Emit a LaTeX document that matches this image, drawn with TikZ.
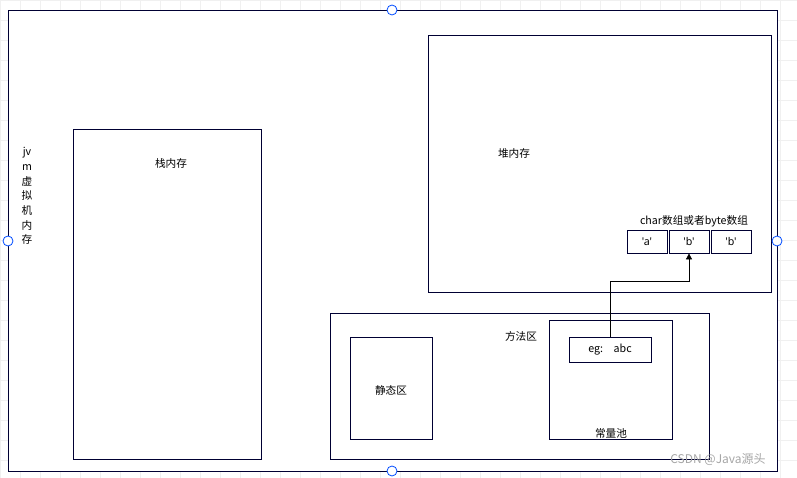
\documentclass[tikz,border=0pt]{standalone}
\usepackage{fontspec}
\setmainfont{Noto Sans CJK SC}
\newfontfamily\latinfont{Noto Sans}
\usetikzlibrary{arrows.meta}
\tikzset{
  box/.style={draw=blue!20!black,line width=0.6pt},
  lbl/.style={font=\fontsize{8}{9}\selectfont,inner sep=0pt},
  handle/.style={draw=blue!70!cyan,fill=white,line width=0.6pt},
}
\begin{document}
\begin{tikzpicture}[x=0.75pt,y=-0.75pt]
  \useasboundingbox (0,0) rectangle (797,478);
  % background grid
  \foreach \gx in {0,20,...,790} \draw[gray!12] (\gx,0) -- (\gx,478);
  \foreach \gy in {0,20,...,470} \draw[gray!12] (0,\gy) -- (797,\gy);
  \fill[white] (8,10) rectangle (777,471);

  % boxes
  \draw[box] (8,10) rectangle (777,471);
  \draw[box] (73,129) rectangle (261,459);
  \draw[box] (428,35) rectangle (771,292);
  \draw[box] (330,313) rectangle (709,459);
  \draw[box] (350,337) rectangle (432,439);
  \draw[box] (549,320) rectangle (672,439);
  \node[box,minimum width=61.5pt,minimum height=18.75pt,inner sep=0pt] (eg) at (610,349.5) {};
  \node[lbl] at (eg) {eg:\quad abc};
  \node[box,minimum width=30pt,minimum height=17.25pt,inner sep=0pt] (ca) at (647,241.5) {};
  \node[box,minimum width=30pt,minimum height=17.25pt,inner sep=0pt] (cb) at (689,241.5) {};
  \node[box,minimum width=30pt,minimum height=17.25pt,inner sep=0pt] (cc) at (731,241.5) {};
  \node[lbl,font=\latinfont\fontsize{8}{9}\selectfont] at (ca) {\char39 a\char39};
  \node[lbl,font=\latinfont\fontsize{8}{9}\selectfont] at (cb) {\char39 b\char39};
  \node[lbl,font=\latinfont\fontsize{8}{9}\selectfont] at (cc) {\char39 b\char39};

  % arrow
  \coordinate (bend) at (610,281);
  \draw[line width=0.6pt,-{Triangle[length=4.5pt,width=4.5pt]}] (eg.north) -- (bend) -| (cb.south);

  % labels
  \node[lbl,align=center] at (27,196) {jv\\[2pt]m\\[2pt]虚\\[2pt]拟\\[2pt]机\\[2pt]内\\[2pt]存};
  \node[lbl] at (171,163) {栈内存};
  \node[lbl] at (514,153) {堆内存};
  \node[lbl] at (521,336) {方法区};
  \node[lbl] at (391,390) {静态区};
  \node[lbl] at (611,433) {常量池};
  \node[lbl] at (694,221) {char数组或者byte数组};
  \node[lbl,gray!70,font=\fontsize{9}{10}\selectfont] at (718,460) {CSDN @Java源头};

  % selection handles
  \foreach \p in {(392,10),(8,241),(777,241),(392,471)}
    \draw[handle] \p circle (3.75pt);
\end{tikzpicture}
\end{document}
